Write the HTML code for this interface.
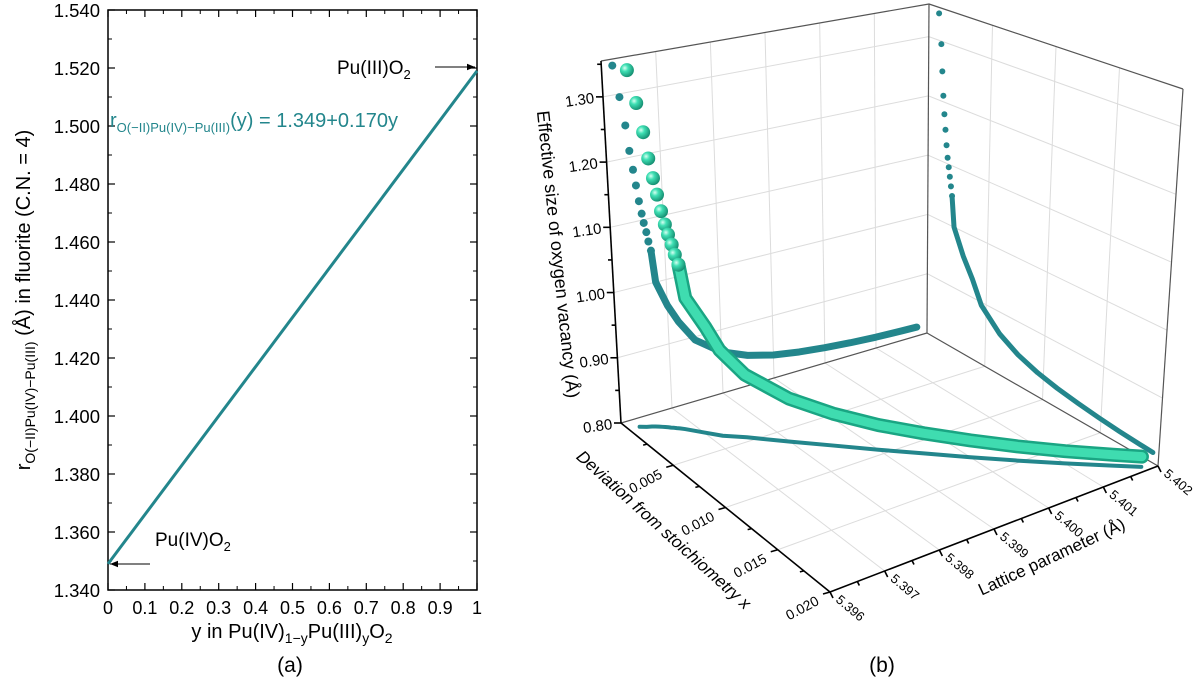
<!DOCTYPE html>
<html><head><meta charset="utf-8"><style>
body{margin:0;background:#fff;}
svg{display:block;font-family:"Liberation Sans",Arial,sans-serif;}
</style></head><body>
<svg id="fig" width="1200" height="690" viewBox="0 0 1200 690">
<defs>
<radialGradient id="sph" cx="0.35" cy="0.35" r="0.7">
<stop offset="0" stop-color="#d8fff2"/><stop offset="0.35" stop-color="#3fe0b4"/><stop offset="1" stop-color="#138a6e"/>
</radialGradient>
<marker id="arr" viewBox="0 0 10 10" refX="10" refY="5" markerWidth="8" markerHeight="8" orient="auto"><path d="M0,1 L10,5 L0,9 z" fill="#000"/></marker>
</defs>
<g id="pa"></g>
<g id="pb"></g>
<g>
<text x="110" y="127" fill="#23868c" font-size="20">r<tspan font-size="13" dy="5">O(−II)Pu(IV)−Pu(III)</tspan><tspan dy="-5">(y) = 1.349+0.170y</tspan></text>
<text x="337" y="74" font-size="19">Pu(III)O<tspan font-size="13" dy="5">2</tspan></text>
<line x1="435" y1="67" x2="475" y2="67" stroke="#000" stroke-width="1" marker-end="url(#arr)"/>
<text x="155" y="546" font-size="19">Pu(IV)O<tspan font-size="13" dy="5">2</tspan></text>
<line x1="150" y1="564" x2="110" y2="564" stroke="#000" stroke-width="1" marker-end="url(#arr)"/>
<text x="292" y="638" text-anchor="middle" font-size="20">y in Pu(IV)<tspan font-size="14" dy="5">1−y</tspan><tspan dy="-5">Pu(III)</tspan><tspan font-size="14" dy="5">y</tspan><tspan dy="-5">O</tspan><tspan font-size="14" dy="5">2</tspan></text>
<text transform="translate(30,300) rotate(-90)" text-anchor="middle" font-size="20">r<tspan font-size="14" dy="5">O(−II)Pu(IV)−Pu(III)</tspan><tspan dy="-5"> (Å) in fluorite (C.N. = 4)</tspan></text>
<text x="290" y="672" text-anchor="middle" font-size="21">(a)</text>
<text x="882" y="672" text-anchor="middle" font-size="21">(b)</text>
</g>
<g font-size="17">
<text transform="translate(552,255) rotate(84)" text-anchor="middle" font-size="18">Effective size of oxygen vacancy (Å)</text>
<text transform="translate(660,534) rotate(42)" text-anchor="middle" font-style="italic">Deviation from stoichiometry x</text>
<text transform="translate(1054,562) rotate(-25)" text-anchor="middle">Lattice parameter (Å)</text>
</g>
</svg>
<script>
// ---------- Panel (a) data ----------
const aYTicks = [1.340,1.360,1.380,1.400,1.420,1.440,1.460,1.480,1.500,1.520,1.540];
const aXTicks = [0,0.1,0.2,0.3,0.4,0.5,0.6,0.7,0.8,0.9,1];
const aXLabels = ["0","0.1","0.2","0.3","0.4","0.5","0.6","0.7","0.8","0.9","1"];
const aIntercept = 1.349;
const aSlope = 0.170;
// ---------- Panel (b) data ----------
const bLattice = [5.39620,5.39630,5.39638,5.39643,5.39648,5.39652,5.39656,5.39660,5.39663,5.39667,5.39670,5.39674,5.3968,5.3970,5.3972,5.3975,5.3980,5.3985,5.3990,5.3995,5.4000,5.4005,5.4010,5.4015,5.4018];
const bDeviation = [0.0008,0.0010,0.0011,0.0012,0.0013,0.0014,0.0015,0.0016,0.0017,0.0018,0.0019,0.0020,0.0022,0.0030,0.0038,0.0046,0.0062,0.0078,0.0095,0.0112,0.0130,0.0148,0.0166,0.0184,0.0195];
const bSize = [1.345,1.295,1.25,1.21,1.18,1.155,1.13,1.11,1.095,1.08,1.065,1.05,1.0,0.96,0.93,0.895,0.865,0.848,0.837,0.830,0.825,0.821,0.818,0.816,0.815];
const bZTicks = [0.80,0.90,1.00,1.10,1.20,1.30];
const bDevTicks = [0.005,0.010,0.015,0.020];
const bDevLabels = ["0.005","0.010","0.015","0.020"];
const bLatTicks = [5.396,5.397,5.398,5.399,5.400,5.401,5.402];

const NS="http://www.w3.org/2000/svg";
function mk(parent,tag,attrs,text){const e=document.createElementNS(NS,tag);for(const k in attrs)e.setAttribute(k,attrs[k]);if(text!==undefined)e.textContent=text;parent.appendChild(e);return e;}

// ---------- Panel (a) ----------
const pa=document.getElementById('pa');
const AX0=108,AX1=477,AY0=590,AY1=10;
const ax=v=>AX0+(v-0)/(1-0)*(AX1-AX0);
const ay=v=>AY0-(v-1.340)/(0.200)*(AY0-AY1);
let fr=mk(pa,'rect',{x:AX0,y:AY1,width:AX1-AX0,height:AY0-AY1,fill:'none',stroke:'#000','stroke-width':1.5});


aYTicks.forEach((t,i)=>{
  const y=ay(t);
  mk(pa,'line',{x1:AX0,y1:y,x2:AX0+7,y2:y,stroke:'#000','stroke-width':1.2});
  mk(pa,'line',{x1:AX1,y1:y,x2:AX1-7,y2:y,stroke:'#000','stroke-width':1.2});
  if(i<aYTicks.length-1){const ym=ay(t+0.01);
    mk(pa,'line',{x1:AX0,y1:ym,x2:AX0+4,y2:ym,stroke:'#000','stroke-width':1});
    mk(pa,'line',{x1:AX1,y1:ym,x2:AX1-4,y2:ym,stroke:'#000','stroke-width':1});}
  const tx=mk(pa,'text',{x:AX0-8,y:y+7,'text-anchor':'end','font-size':18.5},t.toFixed(3));
  
  
});
aXTicks.forEach((t,i)=>{
  const x=ax(t);
  mk(pa,'line',{x1:x,y1:AY0,x2:x,y2:AY0-7,stroke:'#000','stroke-width':1.2});
  mk(pa,'line',{x1:x,y1:AY1,x2:x,y2:AY1+7,stroke:'#000','stroke-width':1.2});
  if(i<aXTicks.length-1){const xm=ax(t+0.05);
    mk(pa,'line',{x1:xm,y1:AY0,x2:xm,y2:AY0-4,stroke:'#000','stroke-width':1});
    mk(pa,'line',{x1:xm,y1:AY1,x2:xm,y2:AY1+4,stroke:'#000','stroke-width':1});}
  const tx=mk(pa,'text',{x:x,y:AY0+24,'text-anchor':'middle','font-size':18},aXLabels[i]);
  
  
});
const ln=mk(pa,'line',{x1:ax(0),y1:ay(aIntercept),x2:ax(1),y2:ay(aIntercept+aSlope),stroke:'#23868c','stroke-width':3});



// ---------- Panel (b) 3D projection ----------
const pb=document.getElementById('pb');
const B={'00':[621,423],'01':[927,333],'11':[1158,466],'10':[830,592]};
const T={'00':[601,61],'01':[929,4],'11':[1183,89],'10':[815,175]};
const Z0=0.80,Z1=1.355,D0=0,D1=0.02,L0=5.396,L1=5.402;
function proj(dev,lat,z){
  const u=(dev-D0)/(D1-D0), v=(lat-L0)/(L1-L0), w=(z-Z0)/(Z1-Z0);
  const bil=(C)=>[0,1].map(k=>C['00'][k]*(1-u)*(1-v)+C['01'][k]*(1-u)*v+C['11'][k]*u*v+C['10'][k]*u*(1-v));
  const b=bil(B), t=bil(T);
  return [b[0]+(t[0]-b[0])*w, b[1]+(t[1]-b[1])*w];
}
function pl(pts,attrs,name){const e=mk(pb,'polyline',Object.assign({points:pts.map(p=>p.join(',')).join(' '),fill:'none','stroke-linejoin':'round'},attrs));return e;}
const G={stroke:'#dcdcdc','stroke-width':1};
bLatTicks.slice(1,-1).forEach(l=>pl([proj(0,l,Z0),proj(0,l,Z1)],G,'grid-line'));
bZTicks.slice(1).forEach(z=>pl([proj(0,L0,z),proj(0,L1,z)],G,'grid-line'));
bDevTicks.slice(0,-1).forEach(d=>pl([proj(d,L1,Z0),proj(d,L1,Z1)],G,'grid-line'));
bZTicks.slice(1).forEach(z=>pl([proj(0,L1,z),proj(D1,L1,z)],G,'grid-line'));
bDevTicks.slice(0,-1).forEach(d=>pl([proj(d,L0,Z0),proj(d,L1,Z0)],G,'grid-line'));
bLatTicks.slice(1,-1).forEach(l=>pl([proj(0,l,Z0),proj(D1,l,Z0)],G,'grid-line'));
const E={stroke:'#555','stroke-width':1.2};
pl([proj(0,L0,Z1),proj(0,L1,Z1),proj(D1,L1,Z1)],E,'box-top-edge');
pl([proj(0,L1,Z0),proj(0,L1,Z1)],E,'box-middle-edge');
pl([proj(D1,L1,Z0),proj(D1,L1,Z1)],E,'box-right-edge');
pl([proj(0,L0,Z0),proj(0,L1,Z0),proj(D1,L1,Z0)],E,'box-floor-edge');
const AXS={stroke:'#000','stroke-width':1.6};
pl([proj(0,L0,Z0),proj(0,L0,Z1)],AXS,'z-axis');
pl([proj(0,L0,Z0),proj(D1,L0,Z0)],AXS,'deviation-axis');
pl([proj(D1,L0,Z0),proj(D1,L1,Z0)],AXS,'lattice-axis');
bZTicks.forEach(z=>{const p=proj(0,L0,z);
  pl([p,[p[0]-7,p[1]]],AXS,'z-tick');
  const m=proj(0,L0,z+0.05); if(z+0.05<Z1) pl([m,[m[0]-4,m[1]]],AXS,'z-minor-tick');
  const t=mk(pb,'text',{x:p[0]-9,y:p[1]+6,'text-anchor':'end','font-size':15,transform:`rotate(-8 ${p[0]-9} ${p[1]})`},z.toFixed(2));
  
  
});
bDevTicks.forEach((d,i)=>{const p=proj(d,L0,Z0);
  pl([p,[p[0]-7,p[1]+2]],AXS,'deviation-tick');
  const m=proj(d-0.0025,L0,Z0); pl([m,[m[0]-4,m[1]+1]],AXS,'deviation-minor-tick');
  const x=p[0]-10,y=p[1]+12;
  const t=mk(pb,'text',{x:x,y:y,'text-anchor':'end','font-size':14,transform:`rotate(-28 ${x} ${y})`},bDevLabels[i]);
  
  
});
bLatTicks.forEach((l,i)=>{const p=proj(D1,l,Z0);
  pl([p,[p[0]+3,p[1]+6]],AXS,'lattice-tick');
  if(i<bLatTicks.length-1){const m=proj(D1,l+0.0005,Z0); pl([m,[m[0]+2,m[1]+4]],AXS,'lattice-minor-tick');}
  const x=p[0]+5,y=p[1]+9;
  const t=mk(pb,'text',{x:x,y:y,'font-size':13,transform:`rotate(40 ${x} ${y})`},l.toFixed(3));
  
  
});
pl(bLattice.map((l,i)=>proj(bDeviation[i],l,Z0)),{stroke:'#23868c','stroke-width':4,'stroke-linecap':'round'},'floor-projection');
const backPts=bLattice.map((l,i)=>proj(0,l,bSize[i]));
pl(backPts.slice(11),{stroke:'#23868c','stroke-width':7,'stroke-linecap':'round'},'back-wall-projection');
backPts.slice(0,12).forEach(p=>{const c=mk(pb,'circle',{cx:p[0],cy:p[1],r:4,fill:'#23868c'});});
const rightPts=bDeviation.map((d,i)=>proj(d,L1,bSize[i]));
pl(rightPts.slice(11),{stroke:'#23868c','stroke-width':5,'stroke-linecap':'round'},'right-wall-projection');
rightPts.slice(0,12).forEach(p=>{const c=mk(pb,'circle',{cx:p[0],cy:p[1],r:3,fill:'#23868c'});});
const curvePts=bLattice.map((l,i)=>{const p=proj(bDeviation[i],l,bSize[i]);return [p[0]+(i<14?6:0),p[1]];});
pl(curvePts.slice(11),{stroke:'#1aa583','stroke-width':14,'stroke-linecap':'round'},'curve-3d-shadow');
pl(curvePts.slice(11),{stroke:'#3fdcb0','stroke-width':9,'stroke-linecap':'round'},'curve-3d');
curvePts.slice(0,12).forEach(p=>{const c=mk(pb,'circle',{cx:p[0],cy:p[1],r:7,fill:'url(#sph)'});});
</script>
</body></html>
